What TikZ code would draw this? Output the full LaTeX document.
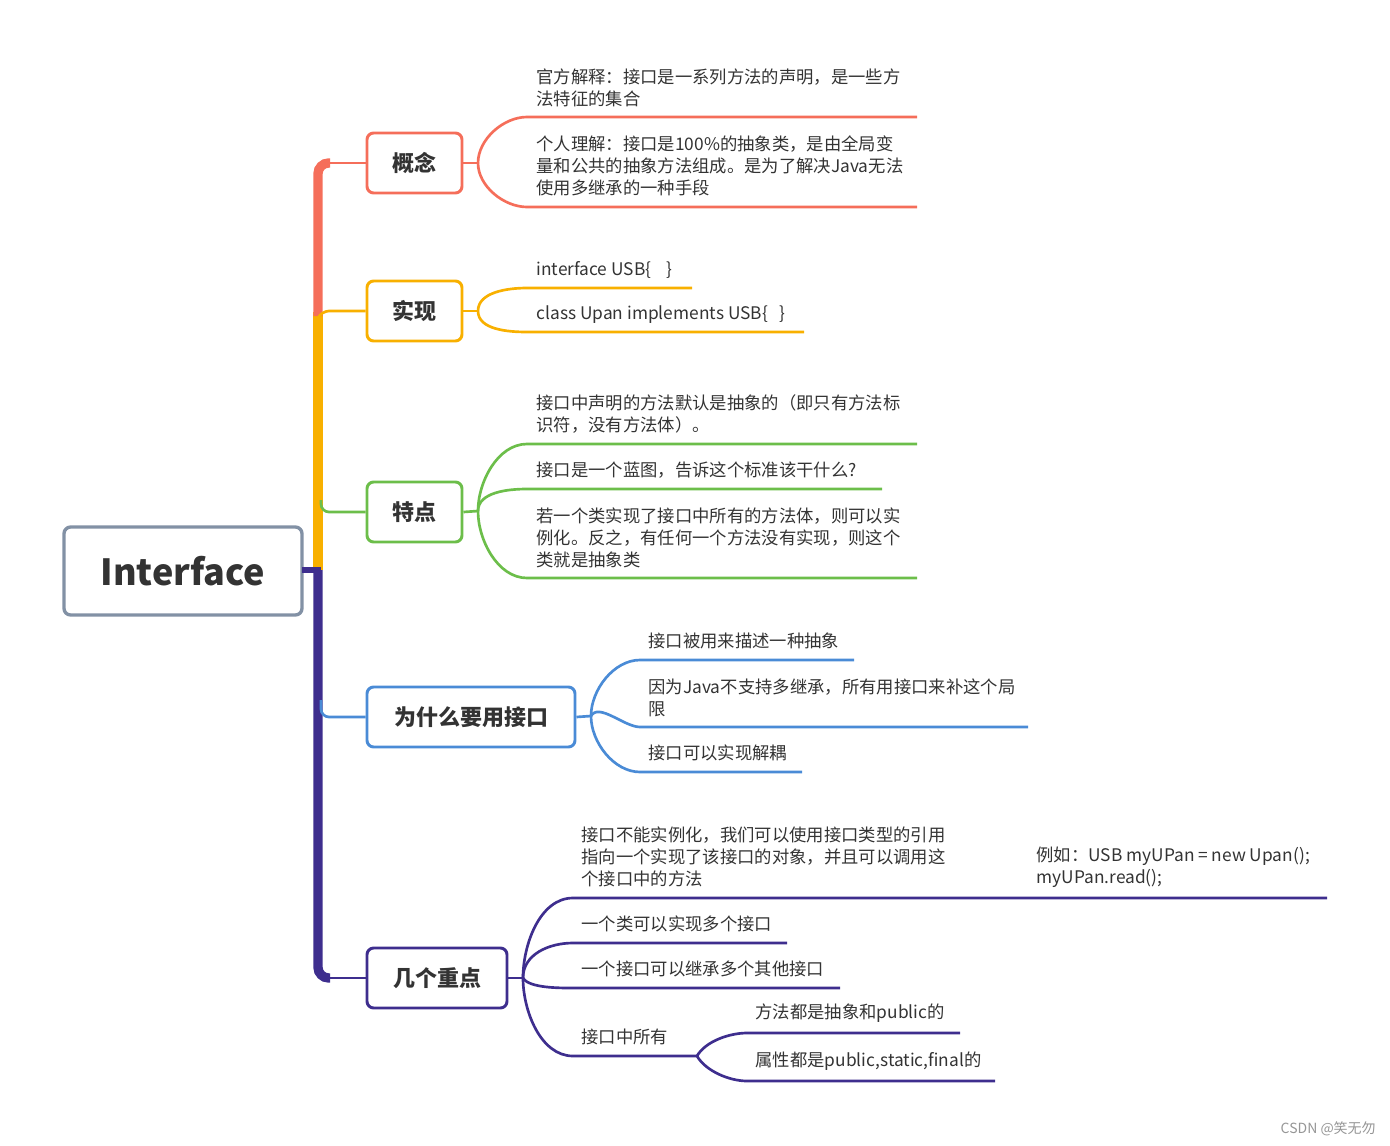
\documentclass[tikz,border=0pt]{standalone}
\usepackage{fontspec}
\setmainfont{Noto Sans CJK SC}
\begin{document}
\begin{tikzpicture}[x=0.75pt,y=-0.75pt,
  cred/.style={color={rgb,255:red,245;green,110;blue,90}},
  cor/.style={color={rgb,255:red,248;green,176;blue,0}},
  cgr/.style={color={rgb,255:red,108;green,190;blue,74}},
  cbl/.style={color={rgb,255:red,74;green,139;blue,214}},
  cpu/.style={color={rgb,255:red,62;green,46;blue,142}},
  topic/.style={draw,line width=2.2pt,rounded corners=5pt,minimum height=60*0.75pt,inner xsep=18pt,font=\fontsize{16.5}{20}\selectfont\bfseries,text={rgb,255:red,51;green,51;blue,51}},
  leaf/.style={anchor=south west,inner sep=1pt,align=left,font=\fontsize{13}{16.5}\selectfont,text={rgb,255:red,51;green,51;blue,51}},
  br/.style={line width=2pt},
  trunk/.style={line width=7pt}]
\useasboundingbox (0,0) rectangle (1390,1146);
% root
\node[draw={rgb,255:red,130;green,145;blue,165},line width=2.5pt,rounded corners=5pt,minimum width=238*0.75pt,minimum height=88*0.75pt,font=\fontsize{27}{30}\selectfont\bfseries,text={rgb,255:red,51;green,51;blue,51}] (root) at (183,571) {Interface};
% topics
\node[topic,cred,minimum width=95*0.75pt] (t1) at (414.5,163) {\color[HTML]{333333}概念};
\node[topic,cor,minimum width=95*0.75pt] (t2) at (414.5,311) {\color[HTML]{333333}实现};
\node[topic,cgr,minimum width=95*0.75pt] (t3) at (414.5,512) {\color[HTML]{333333}特点};
\node[topic,cbl,minimum width=208*0.75pt] (t4) at (471,717) {\color[HTML]{333333}为什么要用接口};
\node[topic,cpu,minimum width=140*0.75pt] (t5) at (437,978) {\color[HTML]{333333}几个重点};
% trunk
\draw[trunk,cpu,rounded corners=8pt] (318,566) -- (318,978) -- (330,978);
\draw[trunk,cor] (318,570) -- (318,312);
\draw[trunk,cred,rounded corners=8pt] (318,316) -- (318,163) -- (330,163);
\draw[br,cred] (328,163) -- (t1.west);
\draw[br,cor,rounded corners=6pt] (318,318) -- (321,311) -- (t2.west);
\draw[br,cgr,rounded corners=6pt] (321,500) -- (321,512) -- (t3.west);
\draw[br,cbl,rounded corners=6pt] (321,700) -- (321,717) -- (t4.west);
\draw[br,cpu] (328,978) -- (t5.west);
\draw[line width=5pt,cpu] (302,570) -- (321,570);
% branch points
\coordinate (b1) at (478,163); \coordinate (b2) at (478,311); \coordinate (b3) at (478,511);
\coordinate (b4) at (591,716); \coordinate (b5) at (523,978); \coordinate (b6) at (697,1056);
\draw[br,cred] (t1.east) -- (b1); \draw[br,cor] (t2.east) -- (b2); \draw[br,cgr] (t3.east) -- (b3);
\draw[br,cbl] (t4.east) -- (b4); \draw[br,cpu] (t5.east) -- (b5);
% concept
\coordinate (a1) at (527,117); \coordinate (a1e) at (917,117);
\coordinate (a2) at (527,207); \coordinate (a2e) at (917,207);
\draw[br,cred] (b1) to[out=90,in=180,looseness=0.9] (a1) -- (a1e);
\draw[br,cred] (b1) to[out=-90,in=180,looseness=0.9] (a2) -- (a2e);
\node[leaf] (l1) at (535,108) {官方解释：接口是一系列方法的声明，是一些方\\法特征的集合};
\node[leaf] (l2) at (535,198) {个人理解：接口是100\%的抽象类，是由全局变\\量和公共的抽象方法组成。是为了解决Java无法\\使用多继承的一种手段};
% implement
\coordinate (c1) at (527,288); \coordinate (c1e) at (692,288);
\coordinate (c2) at (527,332); \coordinate (c2e) at (804,332);
\draw[br,cor] (b2) to[out=90,in=180,looseness=0.9] (c1) -- (c1e);
\draw[br,cor] (b2) to[out=-90,in=180,looseness=0.9] (c2) -- (c2e);
\node[leaf] (l3) at (535,280) {interface USB\{\ \ \ \ \}};
\node[leaf] (l4) at (535,325) {class Upan implements USB\{\ \ \ \}};
% features
\coordinate (d1) at (527,444); \coordinate (d1e) at (917,444);
\coordinate (d2) at (527,489); \coordinate (d2e) at (882,489);
\coordinate (d3) at (527,578); \coordinate (d3e) at (917,578);
\draw[br,cgr] (b3) to[out=90,in=180,looseness=0.9] (d1) -- (d1e);
\draw[br,cgr] (b3) to[out=90,in=180,looseness=0.9] (d2) -- (d2e);
\draw[br,cgr] (b3) to[out=-90,in=180,looseness=0.9] (d3) -- (d3e);
\node[leaf] (l5) at (535,435) {接口中声明的方法默认是抽象的（即只有方法标\\识符，没有方法体）。};
\node[leaf] (l6) at (535,480) {接口是一个蓝图，告诉这个标准该干什么?};
\node[leaf] (l7) at (535,569) {若一个类实现了接口中所有的方法体，则可以实\\例化。反之，有任何一个方法没有实现，则这个\\类就是抽象类};
% why
\coordinate (e1) at (640,660); \coordinate (e1e) at (854,660);
\coordinate (e2) at (640,727); \coordinate (e2e) at (1028,727);
\coordinate (e3) at (640,772); \coordinate (e3e) at (802,772);
\draw[br,cbl] (b4) to[out=90,in=180,looseness=0.9] (e1) -- (e1e);
\draw[br,cbl] (b4) to[out=60,in=180,looseness=0.8] (e2) -- (e2e);
\draw[br,cbl] (b4) to[out=-90,in=180,looseness=0.9] (e3) -- (e3e);
\node[leaf] (l8) at (647,651) {接口被用来描述一种抽象};
\node[leaf] (l9) at (647,718) {因为Java不支持多继承，所有用接口来补这个局\\限};
\node[leaf] (l10) at (647,763) {接口可以实现解耦};
% key points
\coordinate (f1) at (573,898); \coordinate (f1e) at (1028,898); \coordinate (f1x) at (1327,898);
\coordinate (f2) at (573,943); \coordinate (f2e) at (787,943);
\coordinate (f3) at (573,988); \coordinate (f3e) at (840,988);
\coordinate (f4) at (573,1056);
\draw[br,cpu] (b5) to[out=90,in=180,looseness=0.9] (f1) -- (f1e) -- (f1x);
\draw[br,cpu] (b5) to[out=90,in=180,looseness=1] (f2) -- (f2e);
\draw[br,cpu] (b5) to[out=-60,in=180,looseness=0.6] (f3) -- (f3e);
\draw[br,cpu] (b5) to[out=-90,in=180,looseness=0.9] (f4) -- (b6);
\node[leaf] (l11) at (580,889) {接口不能实例化，我们可以使用接口类型的引用\\指向一个实现了该接口的对象，并且可以调用这\\个接口中的方法};
\node[leaf] (l12) at (1035,889) {例如：USB myUPan = new Upan();\\myUPan.read();};
\node[leaf] (l13) at (580,934) {一个类可以实现多个接口};
\node[leaf] (l14) at (580,979) {一个接口可以继承多个其他接口};
\node[leaf] (l15) at (580,1047) {接口中所有};
\coordinate (g1) at (747,1033); \coordinate (g1e) at (960,1033);
\coordinate (g2) at (747,1081); \coordinate (g2e) at (995,1081);
\draw[br,cpu] (b6) to[out=60,in=180,looseness=0.8] (g1) -- (g1e);
\draw[br,cpu] (b6) to[out=-60,in=180,looseness=0.8] (g2) -- (g2e);
\node[leaf] (l16) at (754,1024) {方法都是抽象和public的};
\node[leaf] (l17) at (754,1072) {属性都是public,static,final的};
\node[anchor=east,inner sep=0,font=\fontsize{10.5}{12}\selectfont,text={rgb,255:red,150;green,150;blue,150}] (wm) at (1376,1129) {CSDN @笑无勿};
\end{tikzpicture}
\end{document}
